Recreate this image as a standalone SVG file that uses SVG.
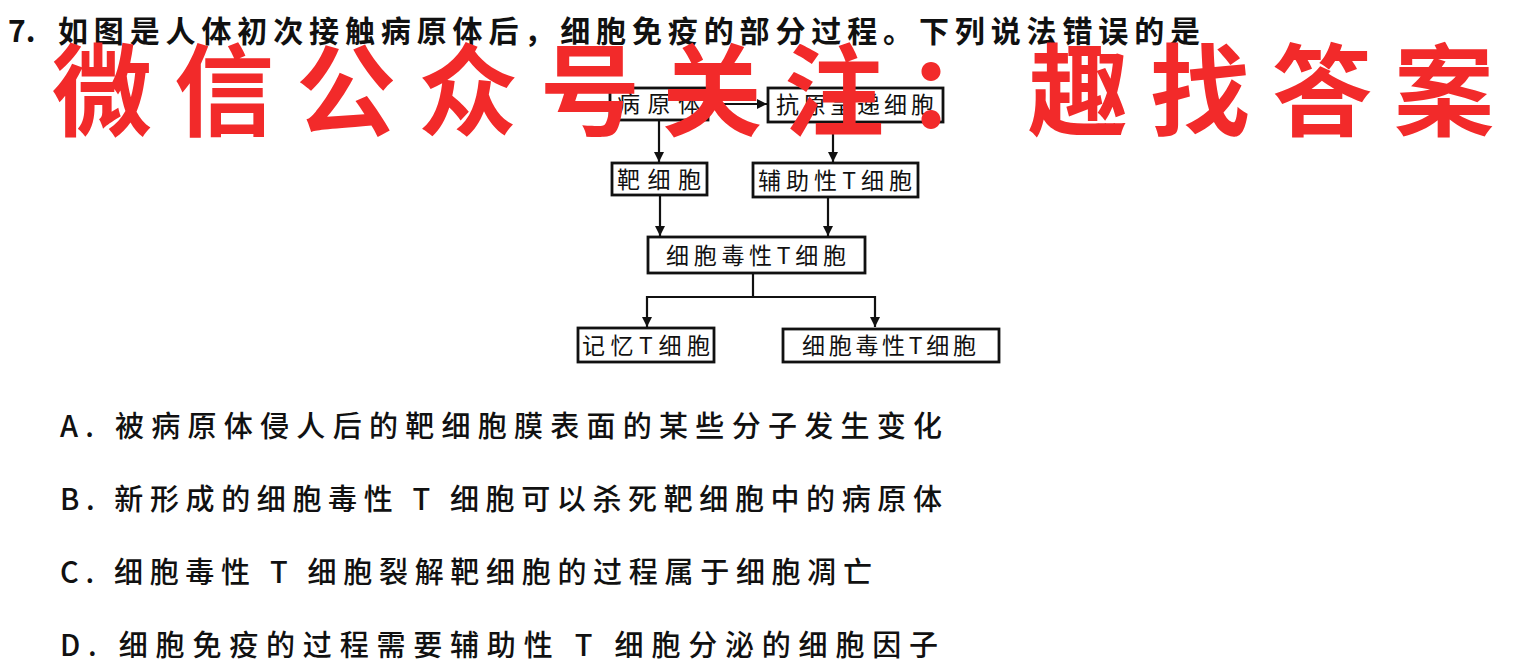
<svg xmlns="http://www.w3.org/2000/svg" width="1520" height="663" viewBox="0 0 1520 663">
<style>
.t{font-family:"Noto Sans CJK SC","Liberation Sans",sans-serif;fill:#111;}
.q{font-size:30px;font-weight:700;}
.o{font-size:29px;font-weight:500;}
.box{fill:#fff;stroke:#111;stroke-width:2.8;}
.lbl{font-family:"Noto Sans CJK SC","Liberation Sans",sans-serif;font-size:23px;fill:#111;text-anchor:middle;}
.c{fill:none;stroke:#111;stroke-width:2.2;}
.wm{font-family:"Noto Sans CJK SC","Liberation Sans",sans-serif;font-size:100px;font-weight:700;fill:#f22a2a;}
</style>
<defs>
<marker id="ah" viewBox="0 0 10 10" refX="10" refY="5" markerWidth="11" markerHeight="10" markerUnits="userSpaceOnUse" orient="auto">
<path d="M0,0 L10,5 L0,10 Z" fill="#111"/>
</marker>
</defs>
<rect width="1520" height="663" fill="#fff"/>
<text class="t q" x="8" y="42">7.</text>
<text class="t q" x="58" y="42" textLength="1142" lengthAdjust="spacing">如图是人体初次接触病原体后，细胞免疫的部分过程。下列说法错误的是</text>

<g id="connectors">
<line class="c" x1="708" y1="104" x2="767" y2="104" marker-end="url(#ah)"/>
<line class="c" x1="659" y1="120" x2="659" y2="162" marker-end="url(#ah)"/>
<line class="c" x1="833" y1="122" x2="833" y2="162" marker-end="url(#ah)"/>
<line class="c" x1="660" y1="195" x2="660" y2="236" marker-end="url(#ah)"/>
<line class="c" x1="828" y1="197" x2="828" y2="236" marker-end="url(#ah)"/>
<line class="c" x1="753" y1="273" x2="753" y2="297"/>
<polyline class="c" points="647,297 875,297 875,327" marker-end="url(#ah)"/>
<line class="c" x1="647" y1="296" x2="647" y2="327" marker-end="url(#ah)"/>
</g>

<g id="n1"><rect class="box" x="610" y="88" width="98" height="32"/><text class="lbl" x="659" y="112" textLength="84" lengthAdjust="spacing">病原体</text></g>
<g id="n2"><rect class="box" x="768" y="88" width="175" height="34"/><text class="lbl" x="855" y="113" textLength="158" lengthAdjust="spacing">抗原呈递细胞</text></g>
<g id="n3"><rect class="box" x="612" y="163" width="95" height="32"/><text class="lbl" x="659" y="188" textLength="84" lengthAdjust="spacing">靶细胞</text></g>
<g id="n4"><rect class="box" x="753" y="163" width="165" height="34"/><text class="lbl" x="835" y="189" textLength="154" lengthAdjust="spacing">辅助性T细胞</text></g>
<g id="n5"><rect class="box" x="648" y="237" width="217" height="36"/><text class="lbl" x="756" y="264" textLength="180" lengthAdjust="spacing">细胞毒性T细胞</text></g>
<g id="n6"><rect class="box" x="578" y="328" width="136" height="34"/><text class="lbl" x="646" y="354" textLength="128" lengthAdjust="spacing">记忆T细胞</text></g>
<g id="n7"><rect class="box" x="783" y="329" width="216" height="33"/><text class="lbl" x="889" y="354" textLength="174" lengthAdjust="spacing">细胞毒性T细胞</text></g>

<text class="t o" x="60" y="437" textLength="882" lengthAdjust="spacing">A. 被病原体侵人后的靶细胞膜表面的某些分子发生变化</text>
<text class="t o" x="60" y="510" textLength="882" lengthAdjust="spacing">B. 新形成的细胞毒性 T 细胞可以杀死靶细胞中的病原体</text>
<text class="t o" x="60" y="583" textLength="812" lengthAdjust="spacing">C. 细胞毒性 T 细胞裂解靶细胞的过程属于细胞凋亡</text>
<text class="t o" x="60" y="656" textLength="878" lengthAdjust="spacing">D. 细胞免疫的过程需要辅助性 T 细胞分泌的细胞因子</text>

<text class="wm" x="52" y="128" letter-spacing="22">微信公众号关注：趣找答案</text>
</svg>
